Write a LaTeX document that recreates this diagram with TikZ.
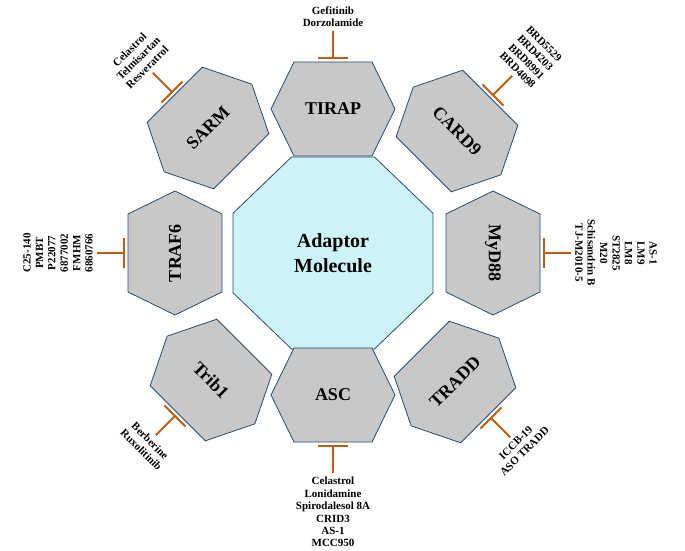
\documentclass[tikz,border=0pt]{standalone}
\usepackage{fontspec}
\setmainfont{Liberation Serif}
\usetikzlibrary{shapes.geometric, arrows.meta, positioning}
\definecolor{hexfill}{HTML}{C8C8C8}
\definecolor{hexline}{HTML}{2E4A66}
\definecolor{octfill}{HTML}{CCF3F8}
\definecolor{inhcol}{HTML}{C55A11}
\begin{document}
\begin{tikzpicture}[x=1pt, y=1pt]

    % Define styles
    \tikzset{
        hexa/.style = {draw=hexline, fill=hexfill, line width=0.8pt},
        octa/.style = {regular polygon, regular polygon sides=8, draw=hexline, fill=octfill, line width=0.8pt, minimum size=208pt, xscale=1.04},
        hexlabel/.style = {font=\rmfamily\bfseries\fontsize{18}{20}\selectfont},
        drugs/.style = {font=\rmfamily\bfseries\fontsize{11}{12.4}\selectfont, align=center, inner sep=1pt},
        inhib/.style = {draw=inhcol, line width=1.8pt, -{Bar[width=30pt, line width=1.8pt]}}
    }

    \useasboundingbox (0,0) rectangle (685,-551);

    % Central molecule
    \node [octa] (adaptor) at (333,-253) {};
    \node [font=\rmfamily\bfseries\fontsize{20}{25}\selectfont, align=center] (adaptortext) at (333,-253) {Adaptor\\Molecule};

    % Hexagons: angle / x offset / y offset / name / label / text rotation / anchor / drugs
    \foreach \ang/\dx/\dy/\nm/\lbl/\rot/\anc/\drug in {
        90/0/144/tirap/TIRAP/0/south/{Gefitinib\\Dorzolamide},
        45/124/122/card/CARD9/-45/south/{BRD5529\\BRD4203\\BRD8991\\BRD4098},
        0/160/0/myd/MyD88/-90/south/{AS-1\\LM9\\LM8\\ST2825\\M20\\Schisandrin B\\TJ-M2010-5},
        315/122/-129/tradd/TRADD/45/north/{ICCB-19\\ASO TRADD},
        270/0/-142/asc/ASC/0/north/{Celastrol\\Lonidamine\\Spirodalesol 8A\\CRID3\\AS-1\\MCC950},
        225/-122/-127/trib/Trib1/-45/north/{Berberine\\Ruxolitinib},
        180/-158/0/traf/TRAF6/90/south/{C25-140\\PMBT\\P22077\\6877002\\FMHM\\6860766},
        135/-125/125/sarm/SARM/45/south/{Celastrol\\Telmisartan\\Resveratrol}}
    {
        \begin{scope}[shift={(333+\dx,-253+\dy)}]
            \begin{scope}[rotate=\ang-90]
                \draw [hexa] (-62,0) -- (-39,47) -- (39,47) -- (62,0) -- (39,-47) -- (-39,-47) -- cycle;
            \end{scope}
            \node [hexlabel, rotate=\rot] (\nm) at (0,0) {\lbl};
            \coordinate (\nm-bar) at (\ang:50);
            \coordinate (\nm-tail) at (\ang:78);
            \node [drugs, rotate=\rot, anchor=\anc] (\nm-drugs) at (\ang:81) {\drug};
        \end{scope}
        \draw [inhib] (\nm-tail) -- (\nm-bar);
    }

\end{tikzpicture}
\end{document}
